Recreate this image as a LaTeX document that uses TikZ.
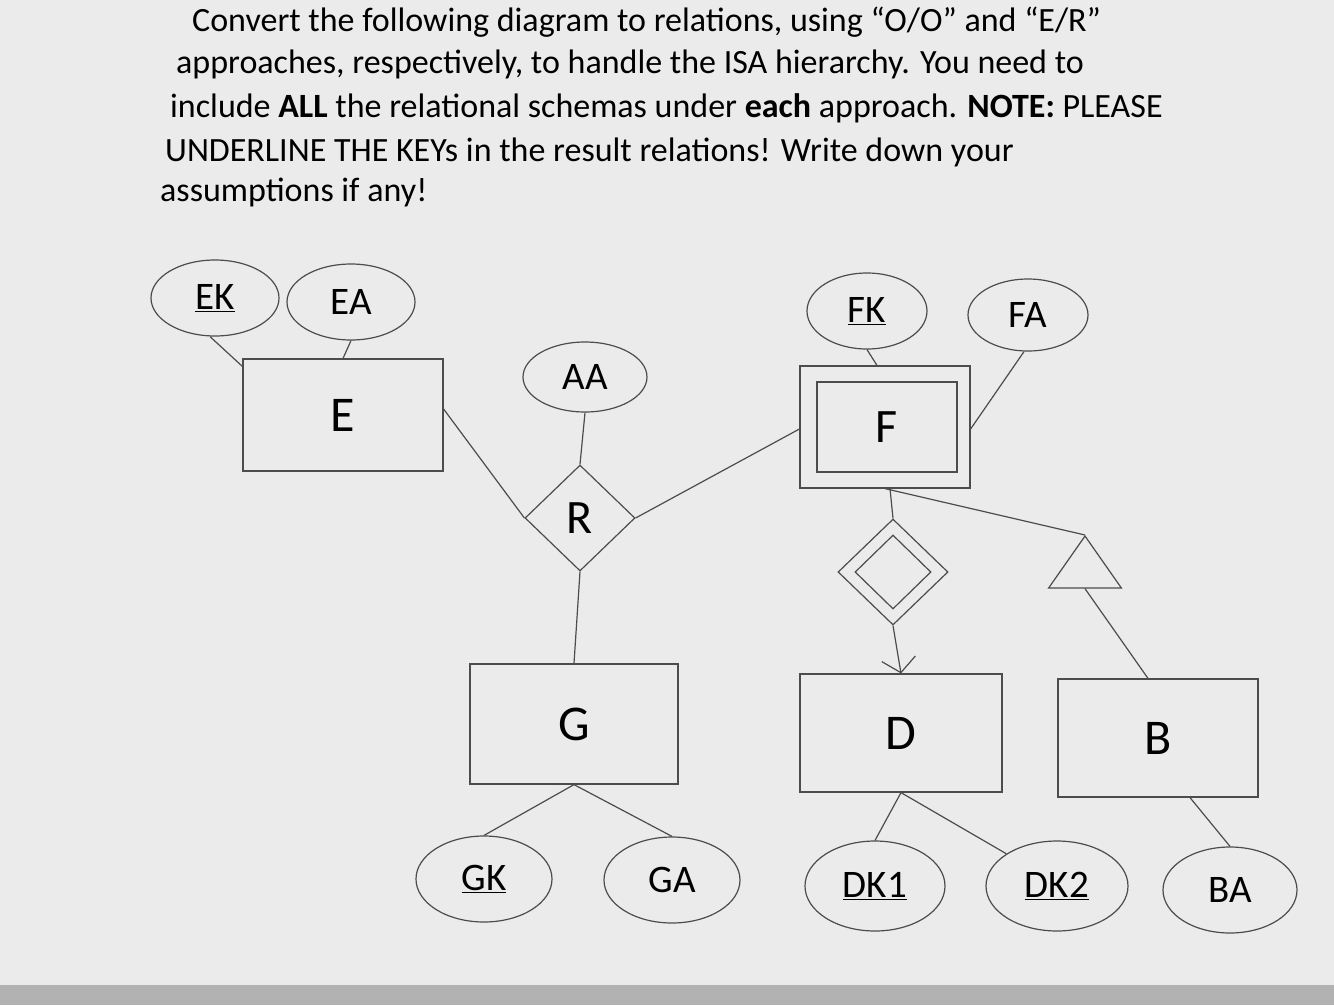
\documentclass[tikz,border=0pt]{standalone}
\usepackage{fontspec}
\setmainfont{Carlito}
\usetikzlibrary{shapes.geometric,arrows.meta}
\begin{document}
\begin{tikzpicture}[x=1pt,y=-1pt,
  ent/.style={draw=black!70,line width=1.2pt,minimum width=200pt,minimum height=112pt,font=\fontsize{50}{52}\selectfont},
  att/.style={draw=black!70,line width=1.2pt,ellipse,minimum width=128pt,minimum height=76pt,font=\fontsize{39}{41}\selectfont},
  rel/.style={draw=black!70,line width=1.2pt,diamond,minimum width=110pt,minimum height=106pt,inner sep=0pt,font=\fontsize{48}{50}\selectfont},
  ln/.style={draw=black!70,line width=1.2pt},
  txt/.style={anchor=west,font=\fontsize{34}{36}\selectfont,inner sep=0pt}]
\fill[black!8] (0,0) rectangle (1334,1005);
\useasboundingbox (0,0) rectangle (1334,1005);
\fill[black!30] (0,985) rectangle (1334,1005);
% text
\node[txt] (t1) at (192,22) {Convert the following diagram to relations, using ``O/O'' and ``E/R''};
\node[txt] (t2) at (176,64) {approaches, respectively, to handle the ISA hierarchy. You need to};
\node[txt] (t3) at (170,108) {include \textbf{ALL} the relational schemas under \textbf{each} approach. \textbf{NOTE:} PLEASE};
\node[txt] (t4) at (165,152) {UNDERLINE THE KEYs in the result relations! Write down your};
\node[txt] (t5) at (160,192) {assumptions if any!};
% entities
\node[ent] (E) at (343,415) {E};
\node[ent,minimum width=208pt,minimum height=120pt] (G) at (574,724) {G};
\node[ent,minimum width=202pt,minimum height=118pt] (D) at (901,733) {D};
\node[ent,minimum width=200pt,minimum height=118pt] (B) at (1158,738) {B};
\node[ent,minimum width=170pt,minimum height=122pt] (F) at (885,427) {};
\node[draw=black!70,line width=1.2pt,minimum width=140pt,minimum height=90pt,font=\fontsize{48}{50}\selectfont] (Fi) at (887,427) {F};
% attributes
\node[att] (EK) at (215,298) {\underline{EK}};
\node[att] (EA) at (351,302) {EA};
\node[att,minimum width=124pt,minimum height=70pt] (AA) at (585,377) {AA};
\node[att,minimum width=120pt] (FK) at (867,311) {\underline{FK}};
\node[att,minimum width=120pt,minimum height=72pt] (FA) at (1028,315) {FA};
\node[att,minimum width=136pt,minimum height=86pt] (GK) at (484,879) {\underline{GK}};
\node[att,minimum width=136pt,minimum height=86pt] (GA) at (672,880) {GA};
\node[att,minimum width=140pt,minimum height=90pt] (DK1) at (875,886) {\underline{DK1}};
\node[att,minimum width=142pt,minimum height=90pt] (DK2) at (1057,886) {\underline{DK2}};
\node[att,minimum width=134pt,minimum height=86pt] (BA) at (1230,890) {BA};
% relationships
\node[rel] (R) at (580,518) {R};
\node[rel] (W) at (893,572) {};
\node[rel,minimum width=76pt,minimum height=74pt] (Wi) at (893,572) {};
\node[ln,isosceles triangle,shape border rotate=90,isosceles triangle apex angle=70,minimum height=52pt,inner sep=0pt,anchor=apex] (T) at (1085,535) {};
% connectors
\draw[ln] ([xshift=-5pt]EK.south) -- ([yshift=-8pt]E.north west);
\draw[ln] (EA.south) -- (E.north);
\draw[ln] ([yshift=6pt]E.east) -- (R.west);
\draw[ln] (AA.south) -- (R.north);
\draw[ln] (R.south) -- (G.north);
\draw[ln] (R.east) -- ([yshift=-2pt]F.west);
\draw[ln] (FK.south) -- ([xshift=-8pt]F.north);
\draw[ln] ([xshift=-4pt]FA.south) -- ([yshift=-2pt]F.east);
\draw[ln] ([xshift=5pt]F.south) -- (W.north);
\draw[ln,-{Straight Barb[length=14pt,width=34pt]}] (W.south) -- (D.north);
\draw[ln] (F.south) -- (T.apex);
\draw[ln] (T.south) -- ([xshift=-10pt]B.north);
\draw[ln] (G.south) -- (GK.north);
\draw[ln] (G.south) -- (GA.north);
\draw[ln] (D.south) -- (DK1.north);
\draw[ln] (D.south) -- (DK2.north west);
\draw[ln] ([xshift=32pt]B.south) -- (BA.north);
\end{tikzpicture}
\end{document}
